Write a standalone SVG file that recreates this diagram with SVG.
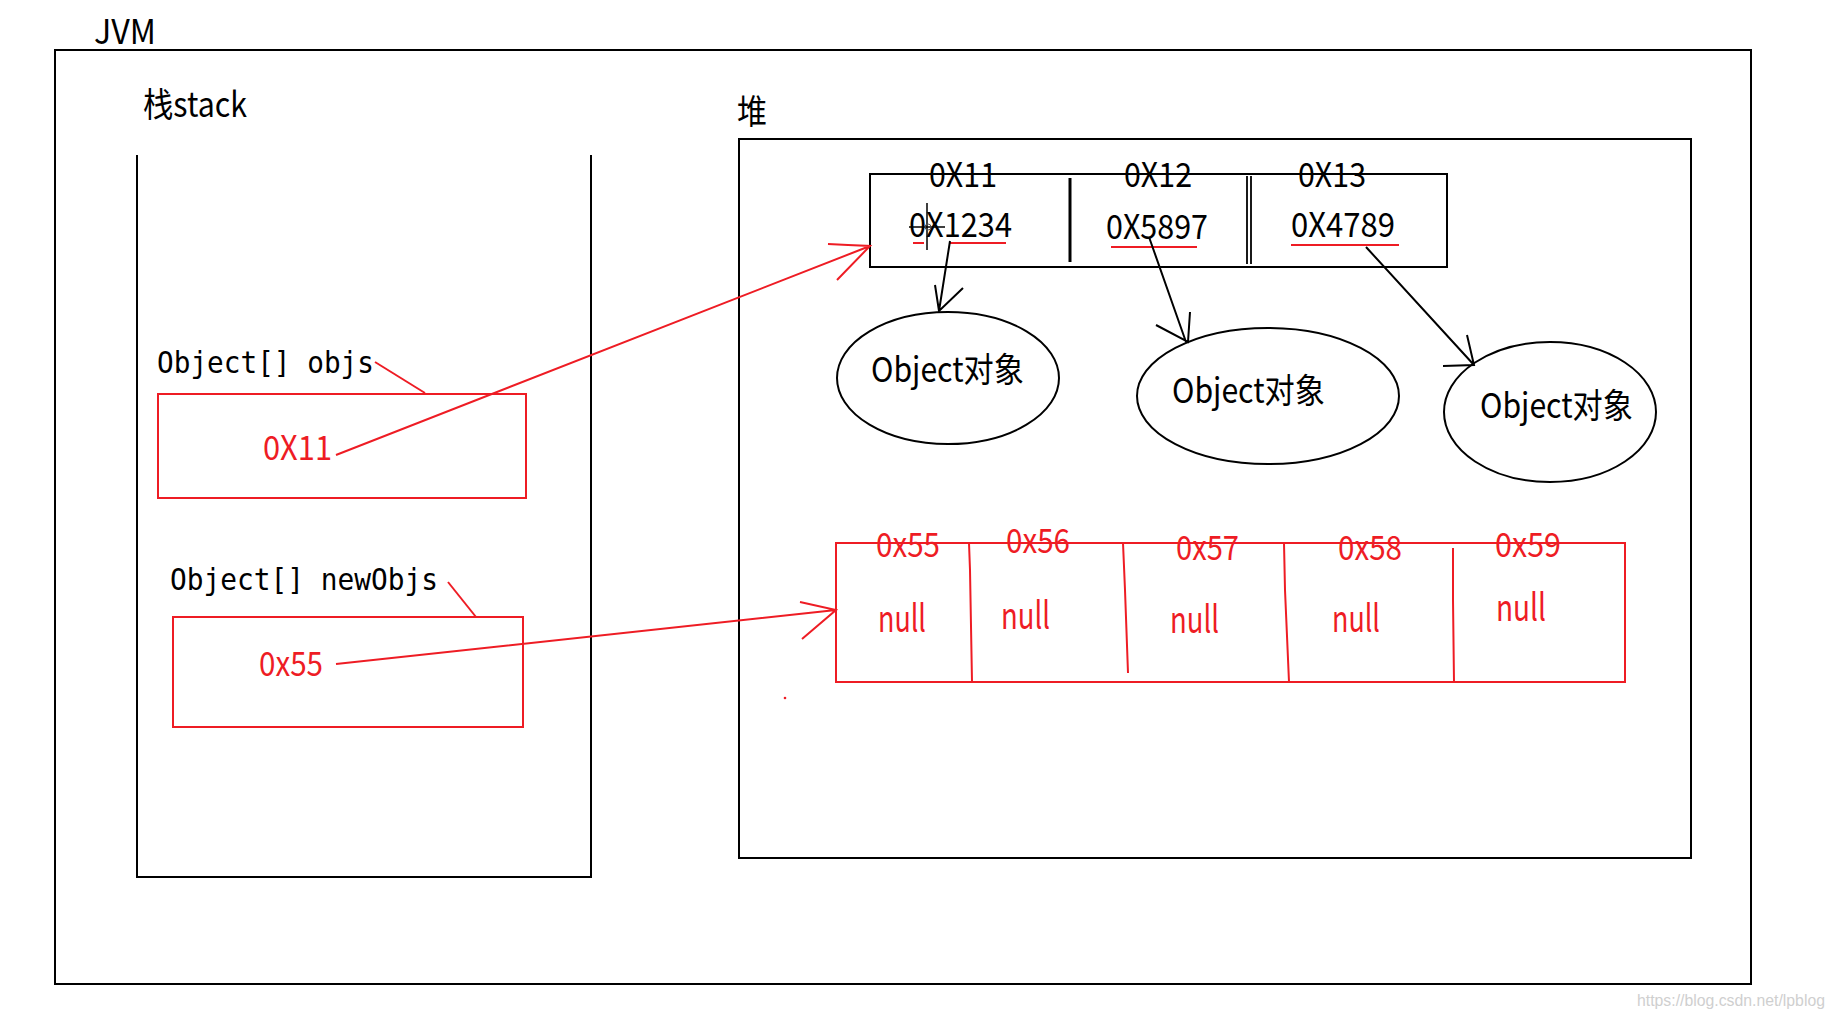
<svg xmlns="http://www.w3.org/2000/svg" width="1834" height="1018" viewBox="0 0 1834 1018">
<style>
.t{font-family:"Noto Sans CJK SC","Noto Sans",sans-serif;font-size:34px;fill:#000}
.r{fill:#ee1c24}
.m{font-family:"DejaVu Sans Mono","Liberation Mono",monospace;font-size:30px;fill:#000}
.n{font-size:37px}
.k{fill:none;stroke:#000;stroke-width:2}
.kr{fill:none;stroke:#ee1c24;stroke-width:2}
.wm{font-family:"Liberation Sans",Arial,sans-serif;font-size:16px;fill:#cfcfcf}
</style>
<rect width="1834" height="1018" fill="#fff"/>

<g id="jvm">
<rect class="k" x="55" y="50" width="1696" height="934" stroke-width="2.5"/>
<text class="t" x="94" y="44" textLength="62" lengthAdjust="spacingAndGlyphs">JVM</text>
</g>

<g id="stack">
<path class="k" d="M137 155 V877 H591 V155"/>
<text class="t" x="143" y="117" textLength="104" lengthAdjust="spacingAndGlyphs">栈stack</text>
</g>

<g id="objs">
<text class="m" x="157" y="373" textLength="217" lengthAdjust="spacingAndGlyphs">Object[] objs</text>
<rect class="kr" x="158" y="394" width="368" height="104"/>
<text class="t r" x="263" y="460" textLength="69" lengthAdjust="spacingAndGlyphs">0X11</text>
</g>

<g id="newObjs">
<text class="m" x="170" y="590" textLength="268" lengthAdjust="spacingAndGlyphs">Object[] newObjs</text>
<rect class="kr" x="173" y="617" width="350" height="110"/>
<text class="t r" x="259" y="676" textLength="64" lengthAdjust="spacingAndGlyphs">0x55</text>
</g>

<g id="heap">
<rect class="k" x="739" y="139" width="952" height="719"/>
<text class="t" x="737" y="124" textLength="30" lengthAdjust="spacingAndGlyphs">堆</text>
</g>

<g id="addrTable">
<rect class="k" x="870" y="174" width="577" height="93"/>
<line x1="1070" y1="178" x2="1070" y2="262" stroke="#000" stroke-width="3"/>
<line x1="1247" y1="176" x2="1247" y2="264" stroke="#000" stroke-width="1.8"/>
<line x1="1251" y1="176" x2="1251" y2="264" stroke="#000" stroke-width="1.8"/>
<text class="t" x="929" y="187" textLength="68" lengthAdjust="spacingAndGlyphs">0X11</text>
<text class="t" x="1124" y="187" textLength="68" lengthAdjust="spacingAndGlyphs">0X12</text>
<text class="t" x="1298" y="187" textLength="68" lengthAdjust="spacingAndGlyphs">0X13</text>
<text class="t" x="909" y="237" textLength="103" lengthAdjust="spacingAndGlyphs">0X1234</text>
<text class="t" x="1106" y="239" textLength="102" lengthAdjust="spacingAndGlyphs">0X5897</text>
<text class="t" x="1291" y="237" textLength="104" lengthAdjust="spacingAndGlyphs">0X4789</text>
<path class="kr" d="M913 243 H924 M950 243 H1006 M1111 247 H1197 M1291 245 H1399" stroke-width="2.5"/>
<path d="M927 203 V250 M909 227 H945" stroke="#000" stroke-width="1.5" fill="none"/>
<circle cx="928" cy="227" r="3" fill="none" stroke="#555" stroke-width="1"/>
</g>

<g id="obj1">
<ellipse class="k" cx="948" cy="378" rx="111" ry="66"/>
<text class="t" x="871" y="382" textLength="153" lengthAdjust="spacingAndGlyphs">Object对象</text>
</g>
<g id="obj2">
<ellipse class="k" cx="1268" cy="396" rx="131" ry="68"/>
<text class="t" x="1172" y="403" textLength="153" lengthAdjust="spacingAndGlyphs">Object对象</text>
</g>
<g id="obj3">
<ellipse class="k" cx="1550" cy="412" rx="106" ry="70"/>
<text class="t" x="1480" y="418" textLength="153" lengthAdjust="spacingAndGlyphs">Object对象</text>
</g>

<g id="nullArray">
<rect class="kr" x="836" y="543" width="789" height="139"/>
<polyline class="kr" points="969,543 970,570 972,682"/>
<polyline class="kr" points="1123,543 1125,590 1128,673"/>
<polyline class="kr" points="1284,543 1285,590 1289,682"/>
<polyline class="kr" points="1453,548 1453,600 1454,682"/>
<text class="t r" x="876" y="557" textLength="64" lengthAdjust="spacingAndGlyphs">0x55</text>
<text class="t r" x="1006" y="553" textLength="64" lengthAdjust="spacingAndGlyphs">0x56</text>
<text class="t r" x="1176" y="560" textLength="63" lengthAdjust="spacingAndGlyphs">0x57</text>
<text class="t r" x="1338" y="560" textLength="64" lengthAdjust="spacingAndGlyphs">0x58</text>
<text class="t r" x="1495" y="557" textLength="66" lengthAdjust="spacingAndGlyphs">0x59</text>
<text class="t r n" x="878" y="632" textLength="48" lengthAdjust="spacingAndGlyphs">null</text>
<text class="t r n" x="1001" y="629" textLength="49" lengthAdjust="spacingAndGlyphs">null</text>
<text class="t r n" x="1170" y="633" textLength="49" lengthAdjust="spacingAndGlyphs">null</text>
<text class="t r n" x="1332" y="632" textLength="48" lengthAdjust="spacingAndGlyphs">null</text>
<text class="t r n" x="1496" y="621" textLength="50" lengthAdjust="spacingAndGlyphs">null</text>
</g>

<g id="connectors">
<line class="kr" x1="375" y1="362" x2="425" y2="393" stroke-width="1.5"/>
<line class="kr" x1="448" y1="582" x2="476" y2="617" stroke-width="1.5"/>
<path class="kr" d="M336 455 L870 246 M828 244 L848 245 L870 246 L837 280"/>
<path class="kr" d="M336 664 L836 610 M800 602 L836 610 L802 639" stroke-width="2.5"/>
<path class="k" d="M950 241 L939 311 M935 285 L939 311 L963 288" stroke-width="1.8"/>
<path class="k" d="M1149 237 L1186 342 M1190 312 L1188 342 L1156 325" stroke-width="1.8"/>
<path class="k" d="M1366 247 L1474 365 M1467 335 L1474 365 L1443 366" stroke-width="1.8"/>
<circle cx="785" cy="698" r="1.3" fill="#ee1c24"/>
</g>

<text class="wm" x="1637" y="1006" textLength="188" lengthAdjust="spacingAndGlyphs">https://blog.csdn.net/lpblog</text>
</svg>
